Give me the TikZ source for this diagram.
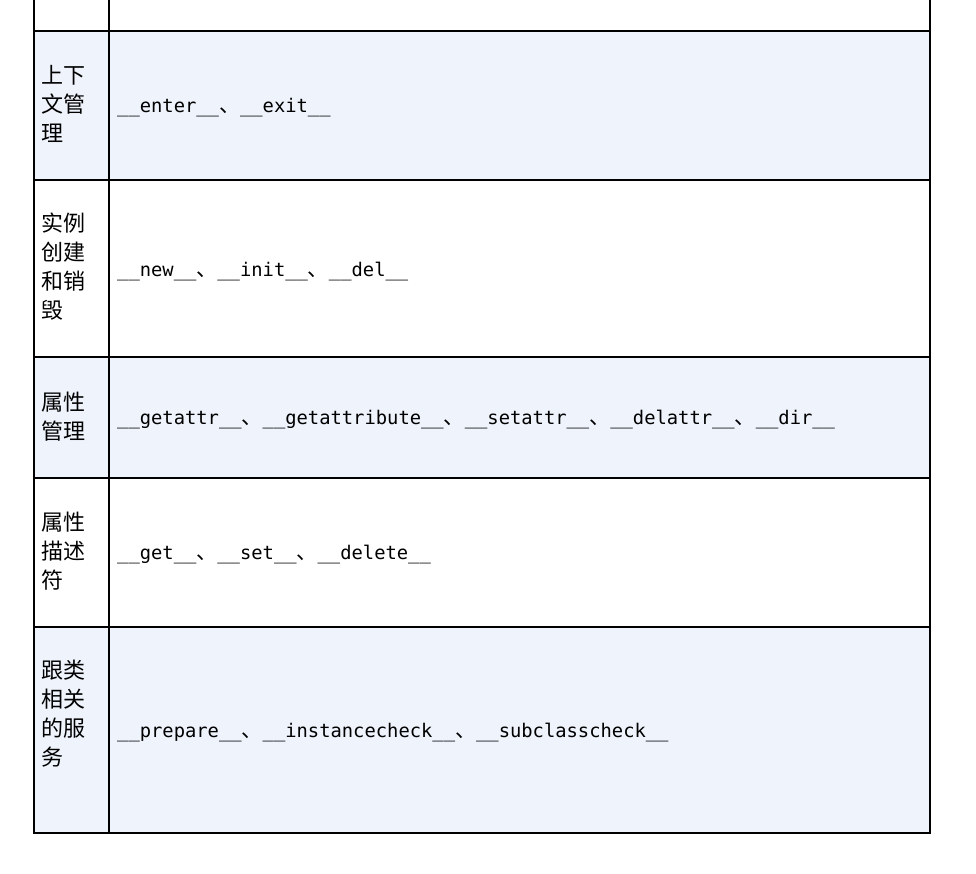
\documentclass[tikz,border=0pt]{standalone}
\usepackage{fontspec}
\newfontfamily\cjk{Noto Sans CJK SC}
\setmonofont{DejaVu Sans Mono}
\definecolor{rowblue}{HTML}{EEF3FC}
\begin{document}
\begin{tikzpicture}[x=1pt,y=-1pt,
    cat/.style={anchor=west, align=left, inner sep=0pt,
        font=\cjk\fontsize{22}{29}\selectfont},
    meth/.style={anchor=west, inner sep=0pt,
        font=\ttfamily\fontsize{18.8}{20}\selectfont}]
  \useasboundingbox (0,0) rectangle (976,874);
  \newcommand\dun{{\cjk\fontsize{21}{21}\selectfont 、}}
  % shaded rows
  \fill[rowblue] (34,31) rectangle (930,180);
  \fill[rowblue] (34,357) rectangle (930,478);
  \fill[rowblue] (34,627) rectangle (930,833);
  % grid
  \draw[line width=1.3pt] (34,0) -- (34,833) -- (930,833) -- (930,0);
  \draw[line width=1.3pt] (109,0) -- (109,833);
  \foreach \y in {31,180,357,478,627}
    \draw[line width=1.3pt] (34,\y) -- (930,\y);
  % first column
  \node[cat] (ctx) at (41,104) {上下\\文管\\理};
  \node[cat] (life) at (41,267) {实例\\创建\\和销\\毁};
  \node[cat] (attr) at (41,417) {属性\\管理};
  \node[cat] (desc) at (41,551) {属性\\描述\\符};
  \node[cat] (cls) at (41,714) {跟类\\相关\\的服\\务};
  % second column
  \node[meth] (mctx) at (117,108) {\_\_enter\_\_\dun\_\_exit\_\_};
  \node[meth] (mlife) at (117,272) {\_\_new\_\_\dun\_\_init\_\_\dun\_\_del\_\_};
  \node[meth] (mattr) at (117,420) {\_\_getattr\_\_\dun\_\_getattribute\_\_\dun\_\_setattr\_\_\dun\_\_delattr\_\_\dun\_\_dir\_\_};
  \node[meth] (mdesc) at (117,555) {\_\_get\_\_\dun\_\_set\_\_\dun\_\_delete\_\_};
  \node[meth] (mcls) at (117,733) {\_\_prepare\_\_\dun\_\_instancecheck\_\_\dun\_\_subclasscheck\_\_};
\end{tikzpicture}
\end{document}
